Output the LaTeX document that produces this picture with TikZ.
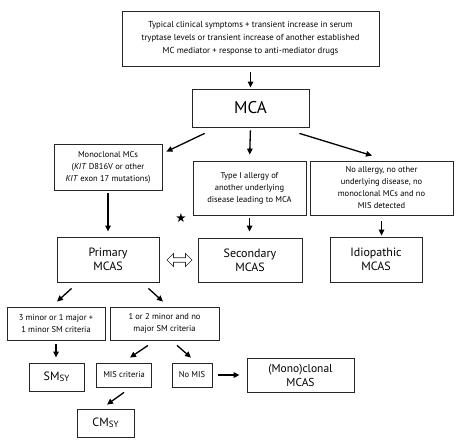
\documentclass[tikz,border=0pt]{standalone}
\usepackage{fontspec}
\setmainfont{PT Sans}
\newfontfamily\symfont{DejaVu Sans}
\usetikzlibrary{arrows.meta,shapes.arrows,calc}
\tikzset{
  box/.style={draw=black!85, line width=0.8pt, inner sep=0pt, align=center, text=black},
  arr/.style={line width=1.3pt, -{Triangle[length=6pt,width=5.5pt]}},
  sm/.style={font=\fontsize{8.5}{12}\selectfont},
  md/.style={font=\fontsize{12}{14}\selectfont},
}
\newcommand{\subsy}{\raisebox{-0.25ex}{\fontsize{9}{9}\selectfont SY}}
\begin{document}
\begin{tikzpicture}[x=1pt,y=-1pt]
\useasboundingbox (0,0) rectangle (463,446);
\node[box, minimum width=257pt, minimum height=55pt, font=\fontsize{8.7}{12.7}\selectfont] (top) at (250.5,38.5)
  {Typical clinical symptoms + transient increase in serum\\tryptase levels or transient increase of another established\\MC mediator + response to anti-mediator drugs};
\node[box, minimum width=117pt, minimum height=38pt, font=\fontsize{17}{20}\selectfont] (mca) at (250.5,108) {MCA};
\node[box, sm, minimum width=108pt, minimum height=46pt] (mono) at (108,167)
  {Monoclonal MCs\\(\textit{KIT} D816V or other\\\textit{KIT} exon 17 mutations)};
\node[box, sm, minimum width=113pt, minimum height=54pt] (typeI) at (249.5,188)
  {Type I allergy of\\another underlying\\disease leading to MCA};
\node[box, sm, minimum width=143pt, minimum height=54pt] (noall) at (381.5,188)
  {No allergy, no other\\underlying disease, no\\monoclonal MCs and no\\MIS detected};
\node[box, md, minimum width=102pt, minimum height=45pt] (prim) at (108,259.5) {Primary\\MCAS};
\node[box, md, minimum width=104pt, minimum height=44pt] (sec) at (250,260) {Secondary\\MCAS};
\node[box, md, minimum width=92pt, minimum height=45pt] (idio) at (376,259.5) {Idiopathic\\MCAS};
\node[font=\symfont\fontsize{12.5}{12.5}\selectfont, inner sep=0pt] (star) at (181,218) {★};
\node[double arrow, draw=black!85, line width=0.7pt, minimum width=13pt, minimum height=25pt,
  double arrow head extend=3pt, inner sep=1.2pt] (dbl) at (179.5,260) {};
\node[box, sm, minimum width=98pt, minimum height=33pt] (three) at (56,323.5)
  {3 minor or 1 major +\\1 minor SM criteria};
\node[box, sm, minimum width=109pt, minimum height=33pt] (onetwo) at (164.5,323.5)
  {1 or 2 minor and no\\major SM criteria};
\node[box, md, minimum width=55pt, minimum height=28pt] (smsy) at (56.5,377) {SM\subsy};
\node[box, sm, minimum width=55pt, minimum height=24pt] (misc) at (124,375) {MIS criteria};
\node[box, sm, minimum width=40pt, minimum height=24pt] (nomis) at (192,375) {No MIS};
\node[box, font=\fontsize{11.5}{14}\selectfont, minimum width=107pt, minimum height=34pt] (monomcas) at (300.5,375) {(Mono)clonal\\MCAS};
\node[box, md, minimum width=57pt, minimum height=28pt] (cmsy) at (105.5,423) {CM\subsy};

\draw[arr, shorten <=6pt, shorten >=1pt] (top.south) -- (mca.north);
\draw[arr] ($(mca.south west)+(13,6)$) -- ($(mono.north east)+(4,8)$);
\draw[arr, shorten <=3pt, shorten >=6pt] (mca.south) -- (typeI.north);
\draw[arr] ($(mca.south east)+(-10,6)$) -- ($(noall.north)+(-9.5,-5)$);
\draw[arr, shorten <=3pt, shorten >=5pt] (mono.south) -- (prim.north);
\draw[arr, shorten <=3pt, shorten >=6pt] (typeI.south) -- (typeI.south |- sec.north);
\draw[arr, shorten <=6pt, shorten >=1pt] (noall.south) -- (noall.south |- idio.north);
\draw[arr] ($(prim.south west)+(15,6)$) -- ($(three.north)+(1,-5)$);
\draw[arr] ($(prim.south east)+(-11,6)$) -- ($(onetwo.north)+(-1.5,-5)$);
\draw[arr, shorten <=4pt, shorten >=5pt] (three.south) -- (three.south |- smsy.north);
\draw[arr] ($(onetwo.south)+(-16.5,5)$) -- ($(misc.north)+(6,-5)$);
\draw[arr] ($(onetwo.south)+(12.5,5)$) -- ($(nomis.north)+(-1,-5)$);
\draw[arr, shorten <=6pt, shorten >=7pt] (nomis.east) -- (monomcas.west |- nomis.east);
\draw[arr] ($(misc.south)+(0,5)$) -- ($(cmsy.north)+(1.5,-4)$);
\end{tikzpicture}
\end{document}
